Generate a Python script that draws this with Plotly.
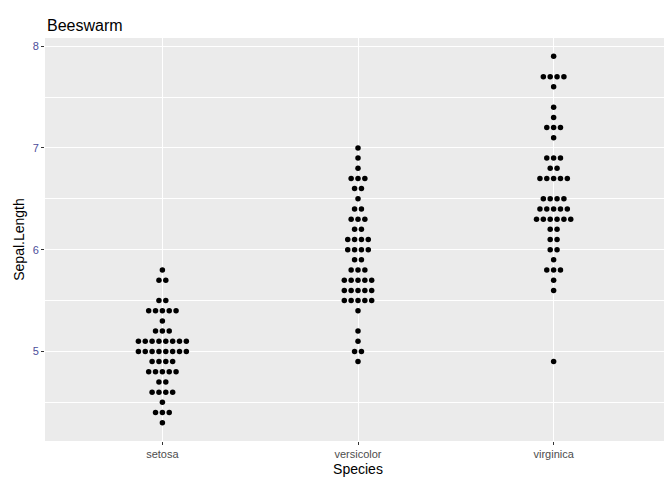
import plotly.graph_objects as go
from collections import Counter

species = ["setosa", "versicolor", "virginica"]
setosa = [5.1,4.9,4.7,4.6,5.0,5.4,4.6,5.0,4.4,4.9,5.4,4.8,4.8,4.3,5.8,5.7,5.4,5.1,5.7,5.1,5.4,5.1,4.6,5.1,4.8,5.0,5.0,5.2,5.2,4.7,4.8,5.4,5.2,5.5,4.9,5.0,5.5,4.9,4.4,5.1,5.0,4.5,4.4,5.0,5.1,4.8,5.1,4.6,5.3,5.0]
versicolor = [7.0,6.4,6.9,5.5,6.5,5.7,6.3,4.9,6.6,5.2,5.0,5.9,6.0,6.1,5.6,6.7,5.6,5.8,6.2,5.6,5.9,6.1,6.3,6.1,6.4,6.6,6.8,6.7,6.0,5.7,5.5,5.5,5.8,6.0,5.4,6.0,6.7,6.3,5.6,5.5,5.5,6.1,5.8,5.0,5.6,5.7,5.7,6.2,5.1,5.7]
virginica = [6.3,5.8,7.1,6.3,6.5,7.6,4.9,7.3,6.7,7.2,6.5,6.4,6.8,5.7,5.8,6.4,6.5,7.7,7.7,6.0,6.9,5.6,7.7,6.3,6.7,7.2,6.2,6.1,6.4,7.2,7.4,7.9,6.4,6.3,6.1,7.7,6.3,6.4,6.0,6.9,6.7,6.9,5.8,6.8,6.7,6.7,6.3,6.5,6.2,5.9]
groups = [setosa, versicolor, virginica]

step = 0.035
xs, ys = [], []
for gi, vals in enumerate(groups):
    cnt = Counter(vals)
    for v, n in cnt.items():
        for i in range(n):
            xs.append(gi + 1 + (i - (n - 1) / 2) * step)
            ys.append(v)

fig = go.Figure(go.Scatter(x=xs, y=ys, mode="markers",
                           marker=dict(color="black", size=5.5), hoverinfo="skip"))
fig.update_layout(
    width=672, height=480, showlegend=False,
    paper_bgcolor="white", plot_bgcolor="#EBEBEB",
    margin=dict(l=37, r=9, t=30, b=47, autoexpand=False),
    title=dict(text="Beeswarm", x=0.058, y=0.975, xanchor="left",
               font=dict(family="Liberation Sans, Arial", size=16, color="black")),
    font=dict(family="Liberation Sans, Arial"),
)
fig.update_xaxes(range=[0.4, 3.6], tickvals=[1, 2, 3], ticktext=species, automargin=False,
                 gridcolor="white", gridwidth=1.2, zeroline=False,
                 ticks="outside", ticklen=3, tickcolor="#333333",
                 tickfont=dict(size=11, color="#4D4D4D"),
                 title=dict(text="Species", font=dict(size=14, color="black"), standoff=4))
fig.update_yaxes(range=[4.12, 8.08], tickvals=[5, 6, 7, 8], automargin=False,
                 gridcolor="white", gridwidth=1.2, zeroline=False,
                 minor=dict(tickvals=[4.5, 5.5, 6.5, 7.5], gridcolor="white", gridwidth=0.5),
                 ticks="outside", ticklen=3, tickcolor="#333333",
                 tickfont=dict(size=11, color="#4D4D9A"),
                 title=dict(text="Sepal.Length", font=dict(size=14, color="black"), standoff=4))
fig.write_html("out.html")
